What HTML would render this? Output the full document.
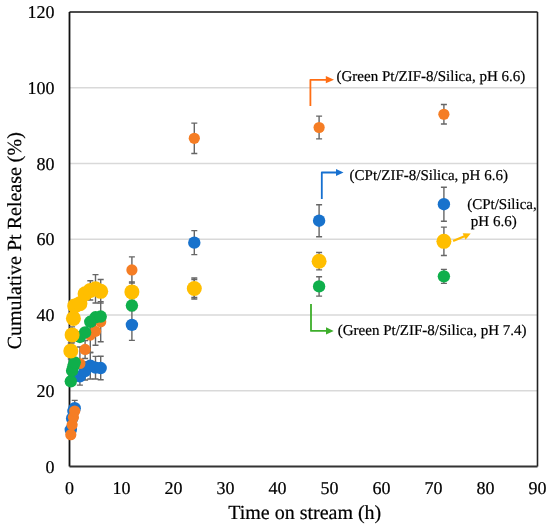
<!DOCTYPE html>
<html><head><meta charset="utf-8"><style>
html,body{margin:0;padding:0;background:#fff;}
body{width:550px;height:526px;overflow:hidden;font-family:"Liberation Serif",serif;}
svg{display:block;will-change:transform;}
</style></head><body>
<svg width="550" height="526" viewBox="0 0 550 526" font-family="Liberation Serif, serif" fill="#000"><style>text{stroke:#000;stroke-width:0.2px;text-rendering:geometricPrecision;}</style>
<rect width="550" height="526" fill="#fff"/>
<line x1="69.5" x2="537.5" y1="390.75" y2="390.75" stroke="#d9d9d9" stroke-width="1.5"/><line x1="69.5" x2="537.5" y1="315" y2="315" stroke="#d9d9d9" stroke-width="1.5"/><line x1="69.5" x2="537.5" y1="239.25" y2="239.25" stroke="#d9d9d9" stroke-width="1.5"/><line x1="69.5" x2="537.5" y1="163.5" y2="163.5" stroke="#d9d9d9" stroke-width="1.5"/><line x1="69.5" x2="537.5" y1="87.75" y2="87.75" stroke="#d9d9d9" stroke-width="1.5"/>
<line x1="69.5" x2="537.5" y1="12.0" y2="12.0" stroke="#4d4d4d" stroke-width="2"/><line x1="69.5" x2="69.5" y1="12.0" y2="466.5" stroke="#111" stroke-width="1.8"/><line x1="537.5" x2="537.5" y1="12.0" y2="466.5" stroke="#222" stroke-width="1.6"/><line x1="69.5" x2="537.5" y1="466.5" y2="466.5" stroke="#333" stroke-width="2"/>
<g stroke="#666666" stroke-width="1.4" fill="none"><path d="M74.7 400.37V415.97M71.7 400.37H77.7M71.7 415.97H77.7" /><path d="M79.9 367.56V385.16M76.9 367.56H82.9M76.9 385.16H82.9" /><path d="M85.1 362.06V380.06M82.1 362.06H88.1M82.1 380.06H88.1" /><path d="M90.3 352.55V378.95M87.3 352.55H93.3M87.3 378.95H93.3" /><path d="M95.5 356.35V378.95M92.5 356.35H98.5M92.5 378.95H98.5" /><path d="M100.7 356.22V379.82M97.7 356.22H103.7M97.7 379.82H103.7" /><path d="M131.9 309.35V340.35M128.9 309.35H134.9M128.9 340.35H134.9" /><path d="M194.3 230.66V254.66M191.3 230.66H197.3M191.3 254.66H197.3" /><path d="M319.1 204.69V236.69M316.1 204.69H322.1M316.1 236.69H322.1" /><path d="M443.9 187.22V221.22M440.9 187.22H446.9M440.9 221.22H446.9" /><path d="M79.9 346.98V379.98M76.9 346.98H82.9M76.9 379.98H82.9" /><path d="M85.1 340.47V358.47M82.1 340.47H88.1M82.1 358.47H88.1" /><path d="M90.3 317.57V352.57M87.3 317.57H93.3M87.3 352.57H93.3" /><path d="M95.5 317.39V345.19M92.5 317.39H98.5M92.5 345.19H98.5" /><path d="M100.7 301.82V341.82M97.7 301.82H103.7M97.7 341.82H103.7" /><path d="M131.9 256.83V283.03M128.9 256.83H134.9M128.9 283.03H134.9" /><path d="M194.3 123.16V153.46M191.3 123.16H197.3M191.3 153.46H197.3" /><path d="M319.1 116.12V138.92M316.1 116.12H322.1M316.1 138.92H322.1" /><path d="M443.9 104.46V124.06M440.9 104.46H446.9M440.9 124.06H446.9" /><path d="M131.9 300.53V310.53M128.9 300.53H134.9M128.9 310.53H134.9" /><path d="M194.3 279.49V297.49M191.3 279.49H197.3M191.3 297.49H197.3" /><path d="M319.1 276.7V296.1M316.1 276.7H322.1M316.1 296.1H322.1" /><path d="M443.9 269.37V283.37M440.9 269.37H446.9M440.9 283.37H446.9" /><path d="M70.8 342.98V358.98M67.8 342.98H73.8M67.8 358.98H73.8" /><path d="M72.1 326.88V342.88M69.1 326.88H75.1M69.1 342.88H75.1" /><path d="M73.4 312.41V324.41M70.4 312.41H76.4M70.4 324.41H76.4" /><path d="M74.7 299.91V311.91M71.7 299.91H77.7M71.7 311.91H77.7" /><path d="M79.9 298.64V308.64M76.9 298.64H82.9M76.9 308.64H82.9" /><path d="M85.1 288.79V298.79M82.1 288.79H88.1M82.1 298.79H88.1" /><path d="M90.3 280.78V299.98M87.3 280.78H93.3M87.3 299.98H93.3" /><path d="M95.5 274.67V303.07M92.5 274.67H98.5M92.5 303.07H98.5" /><path d="M100.7 279.53V303.13M97.7 279.53H103.7M97.7 303.13H103.7" /><path d="M131.9 281.9V301.9M128.9 281.9H134.9M128.9 301.9H134.9" /><path d="M194.3 277.99V298.99M191.3 277.99H197.3M191.3 298.99H197.3" /><path d="M319.1 252.52V269.92M316.1 252.52H322.1M316.1 269.92H322.1" /><path d="M443.9 227.13V255.53M440.9 227.13H446.9M440.9 255.53H446.9" /></g>
<g fill="#1872CC"><circle cx="70.8" cy="429.76" r="6.2"/><circle cx="72.1" cy="418.4" r="6.2"/><circle cx="73.4" cy="411.01" r="6.2"/><circle cx="74.7" cy="408.17" r="6.2"/><circle cx="79.9" cy="376.36" r="6.2"/><circle cx="85.1" cy="371.06" r="6.2"/><circle cx="90.3" cy="365.75" r="6.2"/><circle cx="95.5" cy="367.65" r="6.2"/><circle cx="100.7" cy="368.02" r="6.2"/><circle cx="131.9" cy="324.85" r="6.2"/><circle cx="194.3" cy="242.66" r="6.2"/><circle cx="319.1" cy="220.69" r="6.2"/><circle cx="443.9" cy="204.22" r="6.2"/></g><g fill="#F57D24"><circle cx="70.8" cy="434.69" r="5.6"/><circle cx="72.1" cy="424.84" r="5.6"/><circle cx="73.4" cy="417.26" r="5.6"/><circle cx="74.7" cy="411.01" r="5.6"/><circle cx="79.9" cy="363.48" r="5.6"/><circle cx="85.1" cy="349.47" r="5.6"/><circle cx="90.3" cy="335.07" r="5.6"/><circle cx="95.5" cy="331.29" r="5.6"/><circle cx="100.7" cy="321.82" r="5.6"/><circle cx="131.9" cy="269.93" r="5.6"/><circle cx="194.3" cy="138.31" r="5.6"/><circle cx="319.1" cy="127.52" r="5.6"/><circle cx="443.9" cy="114.26" r="5.6"/></g><g fill="#0FAF4B"><circle cx="70.8" cy="381.28" r="6.2"/><circle cx="72.1" cy="370.68" r="6.2"/><circle cx="73.4" cy="366.13" r="6.2"/><circle cx="74.7" cy="362.34" r="6.2"/><circle cx="79.9" cy="336.97" r="6.2"/><circle cx="85.1" cy="332.42" r="6.2"/><circle cx="90.3" cy="321.82" r="6.2"/><circle cx="95.5" cy="317.27" r="6.2"/><circle cx="100.7" cy="316.51" r="6.2"/><circle cx="131.9" cy="305.53" r="6.2"/><circle cx="194.3" cy="288.49" r="6.2"/><circle cx="319.1" cy="286.4" r="6.2"/><circle cx="443.9" cy="276.37" r="6.2"/></g><g fill="#FFBE00"><circle cx="70.8" cy="350.98" r="7.5"/><circle cx="72.1" cy="334.88" r="7.5"/><circle cx="73.4" cy="318.41" r="7.5"/><circle cx="74.7" cy="305.91" r="7.5"/><circle cx="79.9" cy="303.64" r="7.5"/><circle cx="85.1" cy="293.79" r="7.5"/><circle cx="90.3" cy="290.38" r="7.5"/><circle cx="95.5" cy="288.87" r="7.5"/><circle cx="100.7" cy="291.33" r="7.5"/><circle cx="131.9" cy="291.9" r="7.5"/><circle cx="194.3" cy="288.49" r="7.5"/><circle cx="319.1" cy="261.22" r="7.5"/><circle cx="443.9" cy="241.33" r="7.5"/></g>
<g font-size="18"><text x="54.6" y="472.7" text-anchor="end">0</text><text x="54.6" y="396.95" text-anchor="end">20</text><text x="54.6" y="321.2" text-anchor="end">40</text><text x="54.6" y="245.45" text-anchor="end">60</text><text x="54.6" y="169.7" text-anchor="end">80</text><text x="54.6" y="93.95" text-anchor="end">100</text><text x="54.6" y="18.2" text-anchor="end">120</text><text x="69.5" y="494" text-anchor="middle">0</text><text x="121.5" y="494" text-anchor="middle">10</text><text x="173.5" y="494" text-anchor="middle">20</text><text x="225.5" y="494" text-anchor="middle">30</text><text x="277.5" y="494" text-anchor="middle">40</text><text x="329.5" y="494" text-anchor="middle">50</text><text x="381.5" y="494" text-anchor="middle">60</text><text x="433.5" y="494" text-anchor="middle">70</text><text x="485.5" y="494" text-anchor="middle">80</text><text x="537.5" y="494" text-anchor="middle">90</text></g>

<text x="304.7" y="519" font-size="20" text-anchor="middle">Time on stream (h)</text>
<text transform="translate(20.5 240.75) rotate(-90)" font-size="20" text-anchor="middle">Cumulative Pt Release (%)</text>


<g fill="none" stroke-width="1.8" stroke-linejoin="round">
<path d="M310.4 106V79.8H327" stroke="#FF6E14"/>
<path d="M321.8 198.9V172.5H337" stroke="#1670D0"/>
<path d="M311 304V330.9H327" stroke="#3DAE2B"/>
<path d="M453.1 241.1L464.5 236.3" stroke="#FFBA00" stroke-width="2.2"/>
</g>
<path d="M325.8 75.9L334 79.7L325.8 83.3Z" fill="#FF6E14"/>
<path d="M336 169L343.5 172.5L336 176Z" fill="#1670D0"/>
<path d="M326 327.3L333.7 330.9L326 334.5Z" fill="#3DAE2B"/>
<path d="M462.7 233.2L470.7 233.5L465.5 239.8Z" fill="#FFBA00"/>


<g font-size="15">
<text x="336.5" y="80.8">(Green Pt/ZIF-8/Silica, pH 6.6)</text>
<text x="349.6" y="180.2">(CPt/ZIF-8/Silica, pH 6.6)</text>
<text x="467.2" y="208.9">(CPt/Silica,</text>
<text x="470.8" y="226.1">pH 6.6)</text>
<text x="337.8" y="335.1">(Green Pt/ZIF-8/Silica, pH 7.4)</text>
</g>

</svg>
</body></html>
